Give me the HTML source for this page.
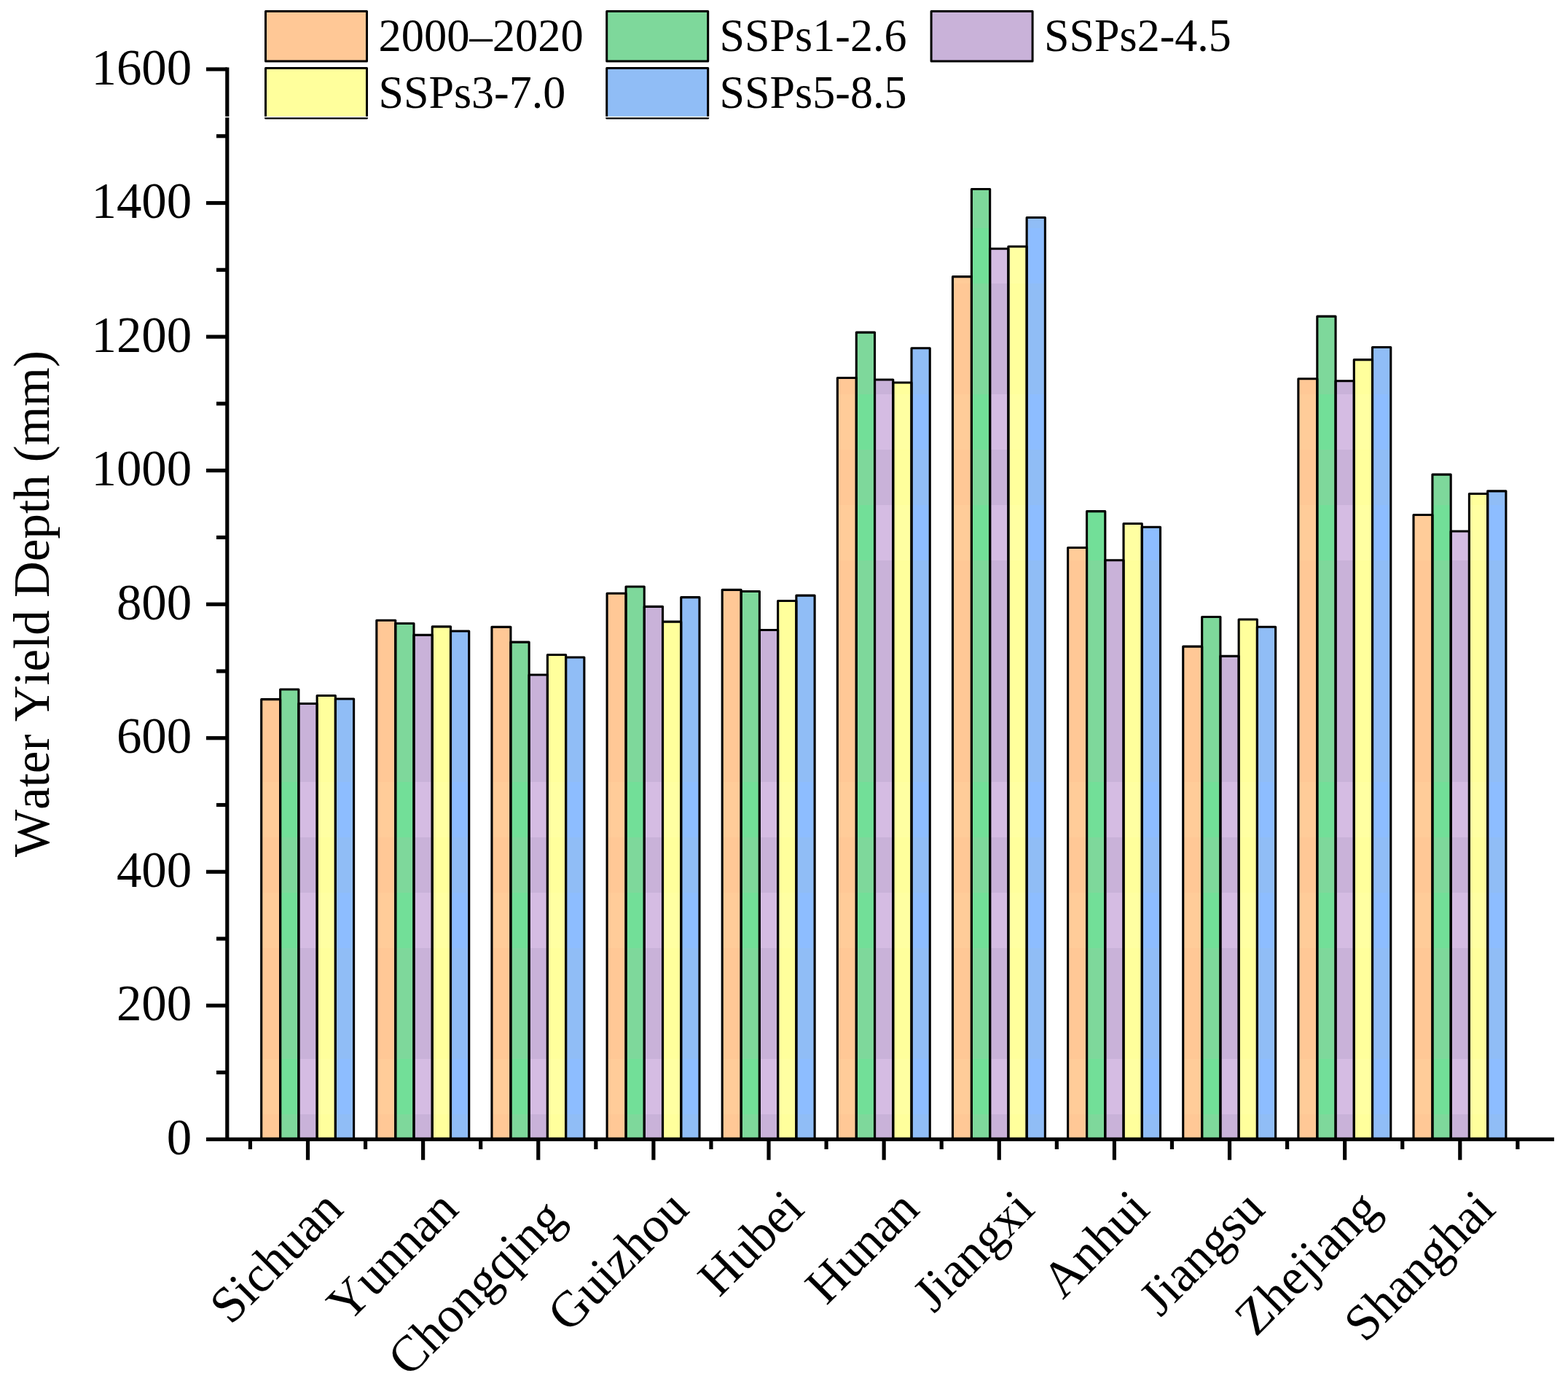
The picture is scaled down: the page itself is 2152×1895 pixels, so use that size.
<!DOCTYPE html>
<html lang="en">
<head>
<meta charset="utf-8">
<title>Water Yield Depth</title>
<style>
html,body{margin:0;padding:0;background:#fff;}
body{width:2152px;height:1895px;overflow:hidden;}
svg{display:block;}
</style>
</head>
<body>
<svg width="2152" height="1895" viewBox="0 0 2152 1895" font-family="'Liberation Serif', 'Times New Roman', serif" fill="#000" style="font-kerning:none">
<rect width="2152" height="1895" fill="#fff"/>
<g stroke="none">
<rect x="358.70" y="959.65" width="25.94" height="603.75" fill="#FFC896"/>
<rect x="384.64" y="945.95" width="25.24" height="617.45" fill="#7ED89B"/>
<rect x="409.88" y="965.55" width="25.24" height="597.85" fill="#C9B2D9"/>
<rect x="435.12" y="954.55" width="25.24" height="608.85" fill="#FFFF9C"/>
<rect x="460.36" y="958.95" width="25.24" height="604.45" fill="#90BDF6"/>
<rect x="516.83" y="851.25" width="25.94" height="712.15" fill="#FFC896"/>
<rect x="542.77" y="855.45" width="25.24" height="707.95" fill="#7ED89B"/>
<rect x="568.01" y="871.35" width="25.24" height="692.05" fill="#C9B2D9"/>
<rect x="593.25" y="859.85" width="25.24" height="703.55" fill="#FFFF9C"/>
<rect x="618.49" y="865.95" width="25.24" height="697.45" fill="#90BDF6"/>
<rect x="674.96" y="860.35" width="25.94" height="703.05" fill="#FFC896"/>
<rect x="700.90" y="881.15" width="25.24" height="682.25" fill="#7ED89B"/>
<rect x="726.14" y="925.95" width="25.24" height="637.45" fill="#C9B2D9"/>
<rect x="751.38" y="898.55" width="25.24" height="664.85" fill="#FFFF9C"/>
<rect x="776.62" y="901.95" width="25.24" height="661.45" fill="#90BDF6"/>
<rect x="833.09" y="814.25" width="25.94" height="749.15" fill="#FFC896"/>
<rect x="859.03" y="804.95" width="25.24" height="758.45" fill="#7ED89B"/>
<rect x="884.27" y="832.35" width="25.24" height="731.05" fill="#C9B2D9"/>
<rect x="909.51" y="853.15" width="25.24" height="710.25" fill="#FFFF9C"/>
<rect x="934.75" y="819.65" width="25.24" height="743.75" fill="#90BDF6"/>
<rect x="991.22" y="809.35" width="25.94" height="754.05" fill="#FFC896"/>
<rect x="1017.16" y="811.55" width="25.24" height="751.85" fill="#7ED89B"/>
<rect x="1042.40" y="864.45" width="25.24" height="698.95" fill="#C9B2D9"/>
<rect x="1067.64" y="824.55" width="25.24" height="738.85" fill="#FFFF9C"/>
<rect x="1092.88" y="817.15" width="25.24" height="746.25" fill="#90BDF6"/>
<rect x="1149.35" y="518.55" width="25.94" height="1044.85" fill="#FFC896"/>
<rect x="1175.29" y="456.15" width="25.24" height="1107.25" fill="#7ED89B"/>
<rect x="1200.53" y="521.05" width="25.24" height="1042.35" fill="#C9B2D9"/>
<rect x="1225.77" y="524.95" width="25.24" height="1038.45" fill="#FFFF9C"/>
<rect x="1251.01" y="477.75" width="25.24" height="1085.65" fill="#90BDF6"/>
<rect x="1307.48" y="379.65" width="25.94" height="1183.75" fill="#FFC896"/>
<rect x="1333.42" y="259.55" width="25.24" height="1303.85" fill="#7ED89B"/>
<rect x="1358.66" y="341.25" width="25.24" height="1222.15" fill="#C9B2D9"/>
<rect x="1383.90" y="338.25" width="25.24" height="1225.15" fill="#FFFF9C"/>
<rect x="1409.14" y="298.45" width="25.24" height="1264.95" fill="#90BDF6"/>
<rect x="1465.61" y="751.55" width="25.94" height="811.85" fill="#FFC896"/>
<rect x="1491.55" y="701.65" width="25.24" height="861.75" fill="#7ED89B"/>
<rect x="1516.79" y="768.75" width="25.24" height="794.65" fill="#C9B2D9"/>
<rect x="1542.03" y="718.55" width="25.24" height="844.85" fill="#FFFF9C"/>
<rect x="1567.27" y="723.25" width="25.24" height="840.15" fill="#90BDF6"/>
<rect x="1623.74" y="887.15" width="25.94" height="676.25" fill="#FFC896"/>
<rect x="1649.68" y="846.55" width="25.24" height="716.85" fill="#7ED89B"/>
<rect x="1674.92" y="900.35" width="25.24" height="663.05" fill="#C9B2D9"/>
<rect x="1700.16" y="849.95" width="25.24" height="713.45" fill="#FFFF9C"/>
<rect x="1725.40" y="860.25" width="25.24" height="703.15" fill="#90BDF6"/>
<rect x="1781.87" y="519.75" width="25.94" height="1043.65" fill="#FFC896"/>
<rect x="1807.81" y="434.15" width="25.24" height="1129.25" fill="#7ED89B"/>
<rect x="1833.05" y="522.75" width="25.24" height="1040.65" fill="#C9B2D9"/>
<rect x="1858.29" y="493.65" width="25.24" height="1069.75" fill="#FFFF9C"/>
<rect x="1883.53" y="476.45" width="25.24" height="1086.95" fill="#90BDF6"/>
<rect x="1940.00" y="706.45" width="25.94" height="856.95" fill="#FFC896"/>
<rect x="1965.94" y="651.15" width="25.24" height="912.25" fill="#7ED89B"/>
<rect x="1991.18" y="728.95" width="25.24" height="834.45" fill="#C9B2D9"/>
<rect x="2016.42" y="677.55" width="25.24" height="885.85" fill="#FFFF9C"/>
<rect x="2041.66" y="673.85" width="25.24" height="889.55" fill="#90BDF6"/>
<rect x="358.70" y="1073.00" width="25.94" height="76.00" fill="#FFCC99"/>
<rect x="358.70" y="1225.00" width="25.94" height="76.00" fill="#FFCC99"/>
<rect x="358.70" y="1453.00" width="25.94" height="76.00" fill="#FFCC99"/>
<rect x="384.64" y="1073.00" width="25.24" height="76.00" fill="#72DF98"/>
<rect x="384.64" y="1225.00" width="25.24" height="76.00" fill="#72DF98"/>
<rect x="384.64" y="1453.00" width="25.24" height="76.00" fill="#72DF98"/>
<rect x="409.88" y="1073.00" width="25.24" height="76.00" fill="#D5BCE3"/>
<rect x="409.88" y="1225.00" width="25.24" height="76.00" fill="#D5BCE3"/>
<rect x="409.88" y="1453.00" width="25.24" height="76.00" fill="#D5BCE3"/>
<rect x="435.12" y="1073.00" width="25.24" height="76.00" fill="#FFFFA2"/>
<rect x="435.12" y="1225.00" width="25.24" height="76.00" fill="#FFFFA2"/>
<rect x="435.12" y="1453.00" width="25.24" height="76.00" fill="#FFFFA2"/>
<rect x="460.36" y="1073.00" width="25.24" height="76.00" fill="#8DBDFF"/>
<rect x="460.36" y="1225.00" width="25.24" height="76.00" fill="#8DBDFF"/>
<rect x="460.36" y="1453.00" width="25.24" height="76.00" fill="#8DBDFF"/>
<rect x="516.83" y="1073.00" width="25.94" height="76.00" fill="#FFCC99"/>
<rect x="516.83" y="1225.00" width="25.94" height="76.00" fill="#FFCC99"/>
<rect x="516.83" y="1453.00" width="25.94" height="76.00" fill="#FFCC99"/>
<rect x="542.77" y="1073.00" width="25.24" height="76.00" fill="#72DF98"/>
<rect x="542.77" y="1225.00" width="25.24" height="76.00" fill="#72DF98"/>
<rect x="542.77" y="1453.00" width="25.24" height="76.00" fill="#72DF98"/>
<rect x="568.01" y="1073.00" width="25.24" height="76.00" fill="#D5BCE3"/>
<rect x="568.01" y="1225.00" width="25.24" height="76.00" fill="#D5BCE3"/>
<rect x="568.01" y="1453.00" width="25.24" height="76.00" fill="#D5BCE3"/>
<rect x="593.25" y="1073.00" width="25.24" height="76.00" fill="#FFFFA2"/>
<rect x="593.25" y="1225.00" width="25.24" height="76.00" fill="#FFFFA2"/>
<rect x="593.25" y="1453.00" width="25.24" height="76.00" fill="#FFFFA2"/>
<rect x="618.49" y="1073.00" width="25.24" height="76.00" fill="#8DBDFF"/>
<rect x="618.49" y="1225.00" width="25.24" height="76.00" fill="#8DBDFF"/>
<rect x="618.49" y="1453.00" width="25.24" height="76.00" fill="#8DBDFF"/>
<rect x="674.96" y="1073.00" width="25.94" height="76.00" fill="#FFCC99"/>
<rect x="674.96" y="1225.00" width="25.94" height="76.00" fill="#FFCC99"/>
<rect x="674.96" y="1453.00" width="25.94" height="76.00" fill="#FFCC99"/>
<rect x="700.90" y="1073.00" width="25.24" height="76.00" fill="#72DF98"/>
<rect x="700.90" y="1225.00" width="25.24" height="76.00" fill="#72DF98"/>
<rect x="700.90" y="1453.00" width="25.24" height="76.00" fill="#72DF98"/>
<rect x="726.14" y="1073.00" width="25.24" height="76.00" fill="#D5BCE3"/>
<rect x="726.14" y="1225.00" width="25.24" height="76.00" fill="#D5BCE3"/>
<rect x="726.14" y="1453.00" width="25.24" height="76.00" fill="#D5BCE3"/>
<rect x="751.38" y="1073.00" width="25.24" height="76.00" fill="#FFFFA2"/>
<rect x="751.38" y="1225.00" width="25.24" height="76.00" fill="#FFFFA2"/>
<rect x="751.38" y="1453.00" width="25.24" height="76.00" fill="#FFFFA2"/>
<rect x="776.62" y="1073.00" width="25.24" height="76.00" fill="#8DBDFF"/>
<rect x="776.62" y="1225.00" width="25.24" height="76.00" fill="#8DBDFF"/>
<rect x="776.62" y="1453.00" width="25.24" height="76.00" fill="#8DBDFF"/>
<rect x="833.09" y="1073.00" width="25.94" height="76.00" fill="#FFCC99"/>
<rect x="833.09" y="1225.00" width="25.94" height="76.00" fill="#FFCC99"/>
<rect x="833.09" y="1453.00" width="25.94" height="76.00" fill="#FFCC99"/>
<rect x="859.03" y="1073.00" width="25.24" height="76.00" fill="#72DF98"/>
<rect x="859.03" y="1225.00" width="25.24" height="76.00" fill="#72DF98"/>
<rect x="859.03" y="1453.00" width="25.24" height="76.00" fill="#72DF98"/>
<rect x="884.27" y="1073.00" width="25.24" height="76.00" fill="#D5BCE3"/>
<rect x="884.27" y="1225.00" width="25.24" height="76.00" fill="#D5BCE3"/>
<rect x="884.27" y="1453.00" width="25.24" height="76.00" fill="#D5BCE3"/>
<rect x="909.51" y="1073.00" width="25.24" height="76.00" fill="#FFFFA2"/>
<rect x="909.51" y="1225.00" width="25.24" height="76.00" fill="#FFFFA2"/>
<rect x="909.51" y="1453.00" width="25.24" height="76.00" fill="#FFFFA2"/>
<rect x="934.75" y="1073.00" width="25.24" height="76.00" fill="#8DBDFF"/>
<rect x="934.75" y="1225.00" width="25.24" height="76.00" fill="#8DBDFF"/>
<rect x="934.75" y="1453.00" width="25.24" height="76.00" fill="#8DBDFF"/>
<rect x="991.22" y="1073.00" width="25.94" height="76.00" fill="#FFCC99"/>
<rect x="991.22" y="1225.00" width="25.94" height="76.00" fill="#FFCC99"/>
<rect x="991.22" y="1453.00" width="25.94" height="76.00" fill="#FFCC99"/>
<rect x="1017.16" y="1073.00" width="25.24" height="76.00" fill="#72DF98"/>
<rect x="1017.16" y="1225.00" width="25.24" height="76.00" fill="#72DF98"/>
<rect x="1017.16" y="1453.00" width="25.24" height="76.00" fill="#72DF98"/>
<rect x="1042.40" y="1073.00" width="25.24" height="76.00" fill="#D5BCE3"/>
<rect x="1042.40" y="1225.00" width="25.24" height="76.00" fill="#D5BCE3"/>
<rect x="1042.40" y="1453.00" width="25.24" height="76.00" fill="#D5BCE3"/>
<rect x="1067.64" y="1073.00" width="25.24" height="76.00" fill="#FFFFA2"/>
<rect x="1067.64" y="1225.00" width="25.24" height="76.00" fill="#FFFFA2"/>
<rect x="1067.64" y="1453.00" width="25.24" height="76.00" fill="#FFFFA2"/>
<rect x="1092.88" y="1073.00" width="25.24" height="76.00" fill="#8DBDFF"/>
<rect x="1092.88" y="1225.00" width="25.24" height="76.00" fill="#8DBDFF"/>
<rect x="1092.88" y="1453.00" width="25.24" height="76.00" fill="#8DBDFF"/>
<rect x="1149.35" y="541.00" width="25.94" height="76.00" fill="#FFCC99"/>
<rect x="1149.35" y="693.00" width="25.94" height="76.00" fill="#FFCC99"/>
<rect x="1149.35" y="1073.00" width="25.94" height="76.00" fill="#FFCC99"/>
<rect x="1149.35" y="1225.00" width="25.94" height="76.00" fill="#FFCC99"/>
<rect x="1149.35" y="1453.00" width="25.94" height="76.00" fill="#FFCC99"/>
<rect x="1175.29" y="541.00" width="25.24" height="76.00" fill="#72DF98"/>
<rect x="1175.29" y="693.00" width="25.24" height="76.00" fill="#72DF98"/>
<rect x="1175.29" y="1073.00" width="25.24" height="76.00" fill="#72DF98"/>
<rect x="1175.29" y="1225.00" width="25.24" height="76.00" fill="#72DF98"/>
<rect x="1175.29" y="1453.00" width="25.24" height="76.00" fill="#72DF98"/>
<rect x="1200.53" y="541.00" width="25.24" height="76.00" fill="#D5BCE3"/>
<rect x="1200.53" y="693.00" width="25.24" height="76.00" fill="#D5BCE3"/>
<rect x="1200.53" y="1073.00" width="25.24" height="76.00" fill="#D5BCE3"/>
<rect x="1200.53" y="1225.00" width="25.24" height="76.00" fill="#D5BCE3"/>
<rect x="1200.53" y="1453.00" width="25.24" height="76.00" fill="#D5BCE3"/>
<rect x="1225.77" y="541.00" width="25.24" height="76.00" fill="#FFFFA2"/>
<rect x="1225.77" y="693.00" width="25.24" height="76.00" fill="#FFFFA2"/>
<rect x="1225.77" y="1073.00" width="25.24" height="76.00" fill="#FFFFA2"/>
<rect x="1225.77" y="1225.00" width="25.24" height="76.00" fill="#FFFFA2"/>
<rect x="1225.77" y="1453.00" width="25.24" height="76.00" fill="#FFFFA2"/>
<rect x="1251.01" y="541.00" width="25.24" height="76.00" fill="#8DBDFF"/>
<rect x="1251.01" y="693.00" width="25.24" height="76.00" fill="#8DBDFF"/>
<rect x="1251.01" y="1073.00" width="25.24" height="76.00" fill="#8DBDFF"/>
<rect x="1251.01" y="1225.00" width="25.24" height="76.00" fill="#8DBDFF"/>
<rect x="1251.01" y="1453.00" width="25.24" height="76.00" fill="#8DBDFF"/>
<rect x="1307.48" y="379.65" width="25.94" height="9.35" fill="#FFCC99"/>
<rect x="1307.48" y="541.00" width="25.94" height="76.00" fill="#FFCC99"/>
<rect x="1307.48" y="693.00" width="25.94" height="76.00" fill="#FFCC99"/>
<rect x="1307.48" y="1073.00" width="25.94" height="76.00" fill="#FFCC99"/>
<rect x="1307.48" y="1225.00" width="25.94" height="76.00" fill="#FFCC99"/>
<rect x="1307.48" y="1453.00" width="25.94" height="76.00" fill="#FFCC99"/>
<rect x="1333.42" y="313.00" width="25.24" height="76.00" fill="#72DF98"/>
<rect x="1333.42" y="541.00" width="25.24" height="76.00" fill="#72DF98"/>
<rect x="1333.42" y="693.00" width="25.24" height="76.00" fill="#72DF98"/>
<rect x="1333.42" y="1073.00" width="25.24" height="76.00" fill="#72DF98"/>
<rect x="1333.42" y="1225.00" width="25.24" height="76.00" fill="#72DF98"/>
<rect x="1333.42" y="1453.00" width="25.24" height="76.00" fill="#72DF98"/>
<rect x="1358.66" y="341.25" width="25.24" height="47.75" fill="#D5BCE3"/>
<rect x="1358.66" y="541.00" width="25.24" height="76.00" fill="#D5BCE3"/>
<rect x="1358.66" y="693.00" width="25.24" height="76.00" fill="#D5BCE3"/>
<rect x="1358.66" y="1073.00" width="25.24" height="76.00" fill="#D5BCE3"/>
<rect x="1358.66" y="1225.00" width="25.24" height="76.00" fill="#D5BCE3"/>
<rect x="1358.66" y="1453.00" width="25.24" height="76.00" fill="#D5BCE3"/>
<rect x="1383.90" y="338.25" width="25.24" height="50.75" fill="#FFFFA2"/>
<rect x="1383.90" y="541.00" width="25.24" height="76.00" fill="#FFFFA2"/>
<rect x="1383.90" y="693.00" width="25.24" height="76.00" fill="#FFFFA2"/>
<rect x="1383.90" y="1073.00" width="25.24" height="76.00" fill="#FFFFA2"/>
<rect x="1383.90" y="1225.00" width="25.24" height="76.00" fill="#FFFFA2"/>
<rect x="1383.90" y="1453.00" width="25.24" height="76.00" fill="#FFFFA2"/>
<rect x="1409.14" y="313.00" width="25.24" height="76.00" fill="#8DBDFF"/>
<rect x="1409.14" y="541.00" width="25.24" height="76.00" fill="#8DBDFF"/>
<rect x="1409.14" y="693.00" width="25.24" height="76.00" fill="#8DBDFF"/>
<rect x="1409.14" y="1073.00" width="25.24" height="76.00" fill="#8DBDFF"/>
<rect x="1409.14" y="1225.00" width="25.24" height="76.00" fill="#8DBDFF"/>
<rect x="1409.14" y="1453.00" width="25.24" height="76.00" fill="#8DBDFF"/>
<rect x="1465.61" y="751.55" width="25.94" height="17.45" fill="#FFCC99"/>
<rect x="1465.61" y="1073.00" width="25.94" height="76.00" fill="#FFCC99"/>
<rect x="1465.61" y="1225.00" width="25.94" height="76.00" fill="#FFCC99"/>
<rect x="1465.61" y="1453.00" width="25.94" height="76.00" fill="#FFCC99"/>
<rect x="1491.55" y="701.65" width="25.24" height="67.35" fill="#72DF98"/>
<rect x="1491.55" y="1073.00" width="25.24" height="76.00" fill="#72DF98"/>
<rect x="1491.55" y="1225.00" width="25.24" height="76.00" fill="#72DF98"/>
<rect x="1491.55" y="1453.00" width="25.24" height="76.00" fill="#72DF98"/>
<rect x="1516.79" y="768.75" width="25.24" height="0.25" fill="#D5BCE3"/>
<rect x="1516.79" y="1073.00" width="25.24" height="76.00" fill="#D5BCE3"/>
<rect x="1516.79" y="1225.00" width="25.24" height="76.00" fill="#D5BCE3"/>
<rect x="1516.79" y="1453.00" width="25.24" height="76.00" fill="#D5BCE3"/>
<rect x="1542.03" y="718.55" width="25.24" height="50.45" fill="#FFFFA2"/>
<rect x="1542.03" y="1073.00" width="25.24" height="76.00" fill="#FFFFA2"/>
<rect x="1542.03" y="1225.00" width="25.24" height="76.00" fill="#FFFFA2"/>
<rect x="1542.03" y="1453.00" width="25.24" height="76.00" fill="#FFFFA2"/>
<rect x="1567.27" y="723.25" width="25.24" height="45.75" fill="#8DBDFF"/>
<rect x="1567.27" y="1073.00" width="25.24" height="76.00" fill="#8DBDFF"/>
<rect x="1567.27" y="1225.00" width="25.24" height="76.00" fill="#8DBDFF"/>
<rect x="1567.27" y="1453.00" width="25.24" height="76.00" fill="#8DBDFF"/>
<rect x="1623.74" y="1073.00" width="25.94" height="76.00" fill="#FFCC99"/>
<rect x="1623.74" y="1225.00" width="25.94" height="76.00" fill="#FFCC99"/>
<rect x="1623.74" y="1453.00" width="25.94" height="76.00" fill="#FFCC99"/>
<rect x="1649.68" y="1073.00" width="25.24" height="76.00" fill="#72DF98"/>
<rect x="1649.68" y="1225.00" width="25.24" height="76.00" fill="#72DF98"/>
<rect x="1649.68" y="1453.00" width="25.24" height="76.00" fill="#72DF98"/>
<rect x="1674.92" y="1073.00" width="25.24" height="76.00" fill="#D5BCE3"/>
<rect x="1674.92" y="1225.00" width="25.24" height="76.00" fill="#D5BCE3"/>
<rect x="1674.92" y="1453.00" width="25.24" height="76.00" fill="#D5BCE3"/>
<rect x="1700.16" y="1073.00" width="25.24" height="76.00" fill="#FFFFA2"/>
<rect x="1700.16" y="1225.00" width="25.24" height="76.00" fill="#FFFFA2"/>
<rect x="1700.16" y="1453.00" width="25.24" height="76.00" fill="#FFFFA2"/>
<rect x="1725.40" y="1073.00" width="25.24" height="76.00" fill="#8DBDFF"/>
<rect x="1725.40" y="1225.00" width="25.24" height="76.00" fill="#8DBDFF"/>
<rect x="1725.40" y="1453.00" width="25.24" height="76.00" fill="#8DBDFF"/>
<rect x="1781.87" y="541.00" width="25.94" height="76.00" fill="#FFCC99"/>
<rect x="1781.87" y="693.00" width="25.94" height="76.00" fill="#FFCC99"/>
<rect x="1781.87" y="1073.00" width="25.94" height="76.00" fill="#FFCC99"/>
<rect x="1781.87" y="1225.00" width="25.94" height="76.00" fill="#FFCC99"/>
<rect x="1781.87" y="1453.00" width="25.94" height="76.00" fill="#FFCC99"/>
<rect x="1807.81" y="541.00" width="25.24" height="76.00" fill="#72DF98"/>
<rect x="1807.81" y="693.00" width="25.24" height="76.00" fill="#72DF98"/>
<rect x="1807.81" y="1073.00" width="25.24" height="76.00" fill="#72DF98"/>
<rect x="1807.81" y="1225.00" width="25.24" height="76.00" fill="#72DF98"/>
<rect x="1807.81" y="1453.00" width="25.24" height="76.00" fill="#72DF98"/>
<rect x="1833.05" y="541.00" width="25.24" height="76.00" fill="#D5BCE3"/>
<rect x="1833.05" y="693.00" width="25.24" height="76.00" fill="#D5BCE3"/>
<rect x="1833.05" y="1073.00" width="25.24" height="76.00" fill="#D5BCE3"/>
<rect x="1833.05" y="1225.00" width="25.24" height="76.00" fill="#D5BCE3"/>
<rect x="1833.05" y="1453.00" width="25.24" height="76.00" fill="#D5BCE3"/>
<rect x="1858.29" y="541.00" width="25.24" height="76.00" fill="#FFFFA2"/>
<rect x="1858.29" y="693.00" width="25.24" height="76.00" fill="#FFFFA2"/>
<rect x="1858.29" y="1073.00" width="25.24" height="76.00" fill="#FFFFA2"/>
<rect x="1858.29" y="1225.00" width="25.24" height="76.00" fill="#FFFFA2"/>
<rect x="1858.29" y="1453.00" width="25.24" height="76.00" fill="#FFFFA2"/>
<rect x="1883.53" y="541.00" width="25.24" height="76.00" fill="#8DBDFF"/>
<rect x="1883.53" y="693.00" width="25.24" height="76.00" fill="#8DBDFF"/>
<rect x="1883.53" y="1073.00" width="25.24" height="76.00" fill="#8DBDFF"/>
<rect x="1883.53" y="1225.00" width="25.24" height="76.00" fill="#8DBDFF"/>
<rect x="1883.53" y="1453.00" width="25.24" height="76.00" fill="#8DBDFF"/>
<rect x="1940.00" y="706.45" width="25.94" height="62.55" fill="#FFCC99"/>
<rect x="1940.00" y="1073.00" width="25.94" height="76.00" fill="#FFCC99"/>
<rect x="1940.00" y="1225.00" width="25.94" height="76.00" fill="#FFCC99"/>
<rect x="1940.00" y="1453.00" width="25.94" height="76.00" fill="#FFCC99"/>
<rect x="1965.94" y="693.00" width="25.24" height="76.00" fill="#72DF98"/>
<rect x="1965.94" y="1073.00" width="25.24" height="76.00" fill="#72DF98"/>
<rect x="1965.94" y="1225.00" width="25.24" height="76.00" fill="#72DF98"/>
<rect x="1965.94" y="1453.00" width="25.24" height="76.00" fill="#72DF98"/>
<rect x="1991.18" y="728.95" width="25.24" height="40.05" fill="#D5BCE3"/>
<rect x="1991.18" y="1073.00" width="25.24" height="76.00" fill="#D5BCE3"/>
<rect x="1991.18" y="1225.00" width="25.24" height="76.00" fill="#D5BCE3"/>
<rect x="1991.18" y="1453.00" width="25.24" height="76.00" fill="#D5BCE3"/>
<rect x="2016.42" y="693.00" width="25.24" height="76.00" fill="#FFFFA2"/>
<rect x="2016.42" y="1073.00" width="25.24" height="76.00" fill="#FFFFA2"/>
<rect x="2016.42" y="1225.00" width="25.24" height="76.00" fill="#FFFFA2"/>
<rect x="2016.42" y="1453.00" width="25.24" height="76.00" fill="#FFFFA2"/>
<rect x="2041.66" y="693.00" width="25.24" height="76.00" fill="#8DBDFF"/>
<rect x="2041.66" y="1073.00" width="25.24" height="76.00" fill="#8DBDFF"/>
<rect x="2041.66" y="1225.00" width="25.24" height="76.00" fill="#8DBDFF"/>
<rect x="2041.66" y="1453.00" width="25.24" height="76.00" fill="#8DBDFF"/>
</g>
<g fill="none" stroke="#000" stroke-width="3.10" stroke-linejoin="round">
<rect x="358.70" y="959.65" width="25.94" height="603.75"/>
<rect x="384.64" y="945.95" width="25.24" height="617.45"/>
<rect x="409.88" y="965.55" width="25.24" height="597.85"/>
<rect x="435.12" y="954.55" width="25.24" height="608.85"/>
<rect x="460.36" y="958.95" width="25.24" height="604.45"/>
<rect x="516.83" y="851.25" width="25.94" height="712.15"/>
<rect x="542.77" y="855.45" width="25.24" height="707.95"/>
<rect x="568.01" y="871.35" width="25.24" height="692.05"/>
<rect x="593.25" y="859.85" width="25.24" height="703.55"/>
<rect x="618.49" y="865.95" width="25.24" height="697.45"/>
<rect x="674.96" y="860.35" width="25.94" height="703.05"/>
<rect x="700.90" y="881.15" width="25.24" height="682.25"/>
<rect x="726.14" y="925.95" width="25.24" height="637.45"/>
<rect x="751.38" y="898.55" width="25.24" height="664.85"/>
<rect x="776.62" y="901.95" width="25.24" height="661.45"/>
<rect x="833.09" y="814.25" width="25.94" height="749.15"/>
<rect x="859.03" y="804.95" width="25.24" height="758.45"/>
<rect x="884.27" y="832.35" width="25.24" height="731.05"/>
<rect x="909.51" y="853.15" width="25.24" height="710.25"/>
<rect x="934.75" y="819.65" width="25.24" height="743.75"/>
<rect x="991.22" y="809.35" width="25.94" height="754.05"/>
<rect x="1017.16" y="811.55" width="25.24" height="751.85"/>
<rect x="1042.40" y="864.45" width="25.24" height="698.95"/>
<rect x="1067.64" y="824.55" width="25.24" height="738.85"/>
<rect x="1092.88" y="817.15" width="25.24" height="746.25"/>
<rect x="1149.35" y="518.55" width="25.94" height="1044.85"/>
<rect x="1175.29" y="456.15" width="25.24" height="1107.25"/>
<rect x="1200.53" y="521.05" width="25.24" height="1042.35"/>
<rect x="1225.77" y="524.95" width="25.24" height="1038.45"/>
<rect x="1251.01" y="477.75" width="25.24" height="1085.65"/>
<rect x="1307.48" y="379.65" width="25.94" height="1183.75"/>
<rect x="1333.42" y="259.55" width="25.24" height="1303.85"/>
<rect x="1358.66" y="341.25" width="25.24" height="1222.15"/>
<rect x="1383.90" y="338.25" width="25.24" height="1225.15"/>
<rect x="1409.14" y="298.45" width="25.24" height="1264.95"/>
<rect x="1465.61" y="751.55" width="25.94" height="811.85"/>
<rect x="1491.55" y="701.65" width="25.24" height="861.75"/>
<rect x="1516.79" y="768.75" width="25.24" height="794.65"/>
<rect x="1542.03" y="718.55" width="25.24" height="844.85"/>
<rect x="1567.27" y="723.25" width="25.24" height="840.15"/>
<rect x="1623.74" y="887.15" width="25.94" height="676.25"/>
<rect x="1649.68" y="846.55" width="25.24" height="716.85"/>
<rect x="1674.92" y="900.35" width="25.24" height="663.05"/>
<rect x="1700.16" y="849.95" width="25.24" height="713.45"/>
<rect x="1725.40" y="860.25" width="25.24" height="703.15"/>
<rect x="1781.87" y="519.75" width="25.94" height="1043.65"/>
<rect x="1807.81" y="434.15" width="25.24" height="1129.25"/>
<rect x="1833.05" y="522.75" width="25.24" height="1040.65"/>
<rect x="1858.29" y="493.65" width="25.24" height="1069.75"/>
<rect x="1883.53" y="476.45" width="25.24" height="1086.95"/>
<rect x="1940.00" y="706.45" width="25.94" height="856.95"/>
<rect x="1965.94" y="651.15" width="25.24" height="912.25"/>
<rect x="1991.18" y="728.95" width="25.24" height="834.45"/>
<rect x="2016.42" y="677.55" width="25.24" height="885.85"/>
<rect x="2041.66" y="673.85" width="25.24" height="889.55"/>
</g>
<g stroke="#000" stroke-width="5.20" fill="none">
<path d="M311.80 92.40V1566.00"/>
<path d="M283 1563.40H2133.00"/>
<path d="M297 1471.62H311.80"/>
<path d="M283 1379.85H311.80"/>
<path d="M297 1288.08H311.80"/>
<path d="M283 1196.30H311.80"/>
<path d="M297 1104.53H311.80"/>
<path d="M283 1012.75H311.80"/>
<path d="M297 920.98H311.80"/>
<path d="M283 829.20H311.80"/>
<path d="M297 737.43H311.80"/>
<path d="M283 645.65H311.80"/>
<path d="M297 553.88H311.80"/>
<path d="M283 462.10H311.80"/>
<path d="M297 370.32H311.80"/>
<path d="M283 278.55H311.80"/>
<path d="M297 186.77H311.80"/>
<path d="M283 95.00H311.80"/>
<path d="M422.50 1563.40V1591.7"/>
<path d="M580.63 1563.40V1591.7"/>
<path d="M738.76 1563.40V1591.7"/>
<path d="M896.89 1563.40V1591.7"/>
<path d="M1055.02 1563.40V1591.7"/>
<path d="M1213.15 1563.40V1591.7"/>
<path d="M1371.28 1563.40V1591.7"/>
<path d="M1529.41 1563.40V1591.7"/>
<path d="M1687.54 1563.40V1591.7"/>
<path d="M1845.67 1563.40V1591.7"/>
<path d="M2003.80 1563.40V1591.7"/>
<path d="M343.44 1563.40V1577"/>
<path d="M501.56 1563.40V1577"/>
<path d="M659.69 1563.40V1577"/>
<path d="M817.83 1563.40V1577"/>
<path d="M975.95 1563.40V1577"/>
<path d="M1134.09 1563.40V1577"/>
<path d="M1292.21 1563.40V1577"/>
<path d="M1450.34 1563.40V1577"/>
<path d="M1608.47 1563.40V1577"/>
<path d="M1766.61 1563.40V1577"/>
<path d="M1924.73 1563.40V1577"/>
<path d="M2082.86 1563.40V1577"/>
</g>
<g font-size="70" text-anchor="end">
<text transform="translate(263.3 1584.00) scale(0.985 1)">0</text>
<text transform="translate(263.3 1400.45) scale(0.985 1)">200</text>
<text transform="translate(263.3 1216.90) scale(0.985 1)">400</text>
<text transform="translate(263.3 1033.35) scale(0.985 1)">600</text>
<text transform="translate(263.3 849.80) scale(0.985 1)">800</text>
<text transform="translate(263.3 666.25) scale(0.985 1)">1000</text>
<text transform="translate(263.3 482.70) scale(0.985 1)">1200</text>
<text transform="translate(263.3 299.15) scale(0.985 1)">1400</text>
<text transform="translate(263.3 115.60) scale(0.985 1)">1600</text>
</g>
<text font-size="70" text-anchor="middle" transform="translate(66.8 828.5) rotate(-90) scale(0.985 1)">Water Yield Depth (mm)</text>
<g font-size="70" text-anchor="end">
<text transform="translate(473.70 1662.30) rotate(-45) scale(0.985 1)">Sichuan</text>
<text transform="translate(631.83 1662.30) rotate(-45) scale(0.985 1)">Yunnan</text>
<text transform="translate(777.59 1674.67) rotate(-45) scale(0.985 1)">Chongqing</text>
<text transform="translate(948.09 1662.30) rotate(-45) scale(0.985 1)">Guizhou</text>
<text transform="translate(1106.22 1662.30) rotate(-45) scale(0.985 1)">Hubei</text>
<text transform="translate(1264.35 1662.30) rotate(-45) scale(0.985 1)">Hunan</text>
<text transform="translate(1422.48 1662.30) rotate(-45) scale(0.985 1)">Jiangxi</text>
<text transform="translate(1580.61 1662.30) rotate(-45) scale(0.985 1)">Anhui</text>
<text transform="translate(1738.74 1662.30) rotate(-45) scale(0.985 1)">Jiangsu</text>
<text transform="translate(1896.87 1662.30) rotate(-45) scale(0.985 1)">Zhejiang</text>
<text transform="translate(2055.00 1662.30) rotate(-45) scale(0.985 1)">Shanghai</text>
</g>
<g font-size="63">
<rect x="364.50" y="15.50" width="139" height="68.5" fill="#FFC896" stroke="#000" stroke-width="3" stroke-linejoin="round"/>
<text transform="translate(519.40 70.00) scale(0.993 1)">2000–2020</text>
<rect x="832.70" y="15.50" width="139" height="68.5" fill="#7ED89B" stroke="#000" stroke-width="3" stroke-linejoin="round"/>
<text transform="translate(987.60 70.00) scale(0.985 1)">SSPs1-2.6</text>
<rect x="1278.10" y="15.50" width="139" height="68.5" fill="#C9B2D9" stroke="#000" stroke-width="3" stroke-linejoin="round"/>
<text transform="translate(1433.00 70.00) scale(0.985 1)">SSPs2-4.5</text>
<rect x="364.50" y="93.50" width="139" height="68.5" fill="#FFFF9C" stroke="#000" stroke-width="3" stroke-linejoin="round"/>
<text transform="translate(519.40 148.00) scale(0.985 1)">SSPs3-7.0</text>
<rect x="832.70" y="93.50" width="139" height="68.5" fill="#90BDF6" stroke="#000" stroke-width="3" stroke-linejoin="round"/>
<text transform="translate(987.60 148.00) scale(0.985 1)">SSPs5-8.5</text>
</g>
<rect x="0" y="159.8" width="1000" height="1.5" fill="#fff"/>
</svg>
</body>
</html>
